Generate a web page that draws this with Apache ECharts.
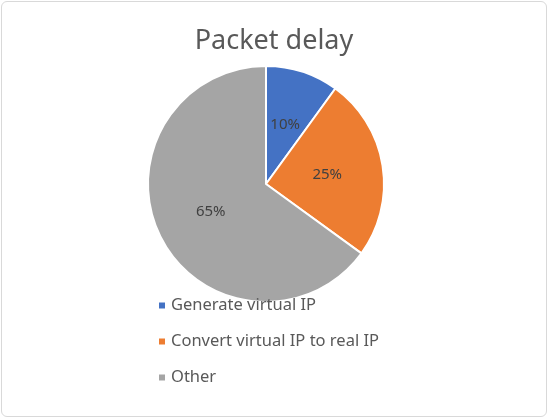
<!DOCTYPE html>
<html><head><meta charset="utf-8">
<script src="https://cdn.jsdelivr.net/npm/echarts@6/dist/echarts.min.js"></script>
<style>html,body{margin:0;padding:0;background:#fff}
#c{position:absolute;left:1px;top:1px;width:546px;height:416px;border:1px solid #d9d9d9;border-radius:6px;box-sizing:border-box}</style>
</head><body><div id="c"></div>
<script>
const categories = ["Generate virtual IP", "Convert virtual IP to real IP", "Other"];
const values = [10, 25, 65];
const colors = ["#4472C4", "#ED7D31", "#A5A5A5"];
const chart = echarts.init(document.getElementById('c'));
chart.setOption({
  title: {text: 'Packet delay', left: 'center', top: 21, textStyle: {fontFamily: 'Noto Sans', fontWeight: 'normal', fontSize: 27, color: '#595959'}},
  legend: {orient: 'vertical', left: 150, top: 290, itemGap: 19, icon: 'rect', itemWidth: 8, itemHeight: 8,
    textStyle: {fontFamily: 'Noto Sans', fontSize: 16.5, color: '#595959'}, data: categories},
  series: [{
    type: 'pie', center: [264, 182], radius: 118, startAngle: 90, clockwise: true,
    itemStyle: {borderColor: '#fff', borderWidth: 2},
    label: {position: 'inner', formatter: '{d}%', fontFamily: 'Noto Sans', fontSize: 15, color: '#404040'},
    labelLine: {show: false},
    data: categories.map((n, i) => ({name: n, value: values[i], itemStyle: {color: colors[i]}}))
  }]
});
</script></body></html>
